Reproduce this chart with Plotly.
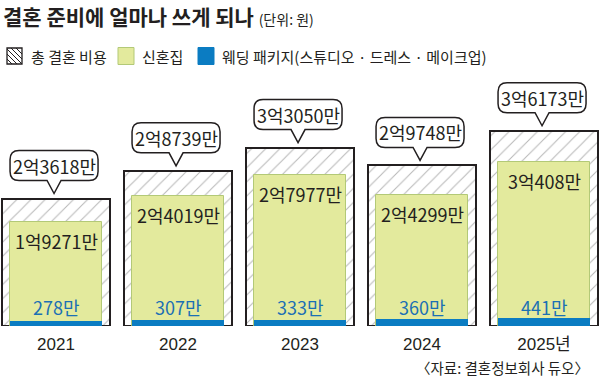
import plotly.graph_objects as go

# ---- data (unit: 만원) ----
years = ["2021", "2022", "2023", "2024", "2025년"]
total_cost = [23618, 28739, 33050, 29748, 36173]
house_cost = [19271, 24019, 27977, 24299, 30408]
package_cost = [278, 307, 333, 360, 441]

legend_names = ["총 결혼 비용", "신혼집", "웨딩 패키지(스튜디오 · 드레스 · 메이크업)"]
title_text = "결혼 준비에 얼마나 쓰게 되나"
unit_text = "(단위: 원)"
source_text = "〈자료: 결혼정보회사 듀오〉"

# ---- style ----
W, H = 600, 378
M_T, M_B = 75, 52
PLOT_H = H - M_T - M_B
GREEN = "#e3ea9d"
GREEN_LINE = "#b3c977"
BLUE = "#0b7cc2"
BLUE_TEXT = "#1b70b4"
DARK = "#231f20"
HATCH = "#6f6f6f"
NUM_FONT = "Noto Sans CJK KR, sans-serif"
KR_FONT = "Noto Sans CJK KR, sans-serif"
YEAR_FONT = "Liberation Sans, Noto Sans CJK KR, sans-serif"


def fmt(v):
    if v >= 10000:
        return f"{v // 10000}억{v % 10000}만"
    return f"{v}만"


def py2paper(py):
    return (H - M_B - py) / PLOT_H


xs = list(range(len(years)))

fig = go.Figure()
fig.add_trace(go.Bar(
    x=xs, y=total_cost, width=0.885, name=legend_names[0], showlegend=False,
    marker=dict(color="white", line=dict(color=DARK, width=2),
                pattern=dict(shape="/", fgcolor=HATCH, bgcolor="white", size=10, solidity=0.1)),
    hoverinfo="skip",
))
fig.add_trace(go.Bar(
    x=xs, y=house_cost, width=0.76, name=legend_names[1], showlegend=False,
    marker=dict(color=GREEN, line=dict(color=GREEN_LINE, width=1)),
    hoverinfo="skip",
))
fig.add_trace(go.Bar(
    x=xs, y=package_cost, width=0.76, name=legend_names[2], showlegend=False,
    marker=dict(color=BLUE, line=dict(width=0)), yaxis="y2",
    hoverinfo="skip",
))


# speech-bubble callouts (pixel-sized, anchored at each bar top)
def bubble_path(w=88, h=30, r=9, gap=5, notch=13, nw=7):
    b = gap + notch
    t = b + h
    hw = w / 2
    return (f"M0,{gap} L{-nw},{b} L{-hw + r},{b} Q{-hw},{b} {-hw},{b + r} "
            f"L{-hw},{t - r} Q{-hw},{t} {-hw + r},{t} L{hw - r},{t} Q{hw},{t} {hw},{t - r} "
            f"L{hw},{b + r} Q{hw},{b} {hw - r},{b} L{nw},{b} Z")


shapes = []
annotations = []
for i, (tot, hs, pk) in enumerate(zip(total_cost, house_cost, package_cost)):
    shapes.append(dict(type="path", xref="x", yref="y", xsizemode="pixel", ysizemode="pixel",
                       xanchor=i - 0.016, yanchor=tot, path=bubble_path(),
                       line=dict(color=DARK, width=1.5), fillcolor="white", layer="above"))
    annotations.append(dict(x=i - 0.016, y=tot, xref="x", yref="y", text=fmt(tot), showarrow=False,
                            yshift=33, font=dict(family=NUM_FONT, size=18, color=DARK)))
    annotations.append(dict(x=i, y=hs, xref="x", yref="y", text=fmt(hs), showarrow=False,
                            yshift=-19, font=dict(family=NUM_FONT, size=18, color=DARK)))
    annotations.append(dict(x=i, y=0, xref="x", yref="y", text=fmt(pk), showarrow=False,
                            yshift=19, font=dict(family=NUM_FONT, size=18, color=BLUE_TEXT)))

# title
annotations.append(dict(x=0.002, y=py2paper(16), xref="paper", yref="paper", xanchor="left", yanchor="middle",
                        showarrow=False,
                        text=f"<b>{title_text}</b> <span style='font-size:14px'>{unit_text}</span>",
                        font=dict(family=KR_FONT, size=21, color=DARK)))

# legend (manual)
ly = py2paper(56)
leg_x = [7, 118, 198]
for k, px in enumerate(leg_x):
    if k == 0:
        shapes.append(dict(type="rect", xref="paper", yref="paper", xsizemode="pixel", ysizemode="pixel",
                           xanchor=px / W, yanchor=ly, x0=0, x1=15, y0=-8, y1=8,
                           line=dict(color=DARK, width=1.3), fillcolor="white"))
        shapes.append(dict(type="path", xref="paper", yref="paper", xsizemode="pixel", ysizemode="pixel",
                           xanchor=px / W, yanchor=ly,
                           path="M0,-3 L5,-8 M0,2 L10,-8 M0,7 L15,-8 M4,8 L15,-3 M9,8 L15,2",
                           line=dict(color=DARK, width=1)))
    else:
        col = GREEN if k == 1 else BLUE
        lc = GREEN_LINE if k == 1 else BLUE
        shapes.append(dict(type="rect", xref="paper", yref="paper", xsizemode="pixel", ysizemode="pixel",
                           xanchor=px / W, yanchor=ly, x0=0, x1=16, y0=-8.5, y1=8.5,
                           line=dict(color=lc, width=1), fillcolor=col))
    annotations.append(dict(x=(px + 22) / W, y=ly, xref="paper", yref="paper", xanchor="left",
                            yanchor="middle", showarrow=False, text=legend_names[k],
                            font=dict(family=KR_FONT, size=15, color=DARK)))

# source
annotations.append(dict(x=591 / W, y=py2paper(367), xref="paper", yref="paper", xanchor="right",
                        yanchor="middle", showarrow=False, text=source_text,
                        font=dict(family=KR_FONT, size=14.5, color=DARK)))

fig.update_layout(
    width=W, height=H, margin=dict(l=0, r=0, t=M_T, b=M_B),
    paper_bgcolor="white", plot_bgcolor="white",
    barmode="overlay", bargap=0,
    xaxis=dict(range=[-0.459, 4.459], tickvals=xs, ticktext=years, showgrid=False, zeroline=False,
               showline=False, ticks="", tickfont=dict(family=YEAR_FONT, size=17, color=DARK),
               ticklabelstandoff=6, fixedrange=True, automargin=False),
    yaxis=dict(range=[0, 46500], visible=False, fixedrange=True),
    yaxis2=dict(range=[0, 13200], visible=False, overlaying="y", fixedrange=True),
    shapes=shapes, annotations=annotations, showlegend=False,
)

fig.write_html("out.html", config={"displayModeBar": False},
               post_script="document.body.style.margin='0';document.body.style.padding='0';")
